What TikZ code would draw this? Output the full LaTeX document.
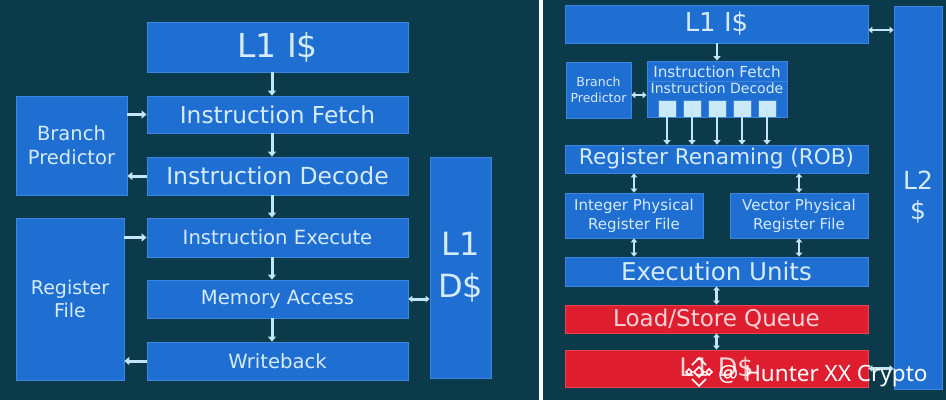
\documentclass[tikz,border=0pt]{standalone}
\usepackage{fontspec}
\setmainfont{DejaVu Sans}
\newfontfamily\wmfont{Noto Sans}
\usetikzlibrary{arrows.meta}
\definecolor{bg}{HTML}{0B3A4B}
\definecolor{boxblue}{HTML}{1F6ED2}
\definecolor{boxedge}{HTML}{3C86DF}
\definecolor{boxtext}{HTML}{D6EBF8}
\definecolor{arrowc}{HTML}{C2E6F5}
\definecolor{boxred}{HTML}{DE1E2E}
\definecolor{rededge}{HTML}{EE4252}
\definecolor{redtext}{HTML}{F6D3D7}
\definecolor{sqfill}{HTML}{C9EAF6}
\begin{document}
\begin{tikzpicture}[x=1pt,y=-1pt,
  bbox/.style={fill=boxblue, draw=boxedge, line width=0.8pt, text=boxtext, inner sep=0pt, align=center},
  rbox/.style={bbox, fill=boxred, draw=rededge, text=redtext},
  lbl/.style={text=boxtext, inner sep=0pt},
  sqbox/.style={fill=sqfill, draw=boxedge, line width=0.6pt, minimum width=18pt, minimum height=17pt, inner sep=0pt},
  arr/.style={draw=arrowc, line width=3pt, -{Triangle[length=5pt,width=8pt]}},
  sarr/.style={draw=arrowc, line width=2.4pt, -{Triangle[length=4.5pt,width=7pt]}},
  darr/.style={draw=arrowc, line width=2.4pt, {Triangle[length=4pt,width=6.5pt]}-{Triangle[length=4pt,width=6.5pt]}},
  logo/.style={draw=white, line width=1.6pt, line join=miter},
  wm/.style={text=white, inner sep=0pt, font=\wmfont\fontsize{22.5}{26}\selectfont}
]
\useasboundingbox (0,0) rectangle (946,400);
\fill[bg] (0,0) rectangle (946,400);
\fill[white] (539,0) rectangle (543,400);

% ---------- left panel ----------
\node[bbox, minimum width=261pt, minimum height=50pt, font=\fontsize{33}{36}\selectfont] (l1i) at (277.5,47) {L1 I\$};
\node[bbox, minimum width=111pt, minimum height=99pt, font=\fontsize{19.5}{24}\selectfont] (bp) at (71.5,145.5) {Branch\\Predictor};
\node[bbox, minimum width=261pt, minimum height=37pt, font=\fontsize{23.3}{26}\selectfont] (if) at (277.5,114.5) {Instruction Fetch};
\node[bbox, minimum width=261pt, minimum height=38pt, font=\fontsize{23.5}{26}\selectfont] (id) at (277.5,176) {Instruction Decode};
\node[bbox, minimum width=108pt, minimum height=162pt, font=\fontsize{19}{22.5}\selectfont] (rf) at (70,299) {Register\\File};
\node[bbox, minimum width=261pt, minimum height=39pt, font=\fontsize{19.6}{22}\selectfont] (ie) at (277.5,237.5) {Instruction Execute};
\node[bbox, minimum width=261pt, minimum height=38pt, font=\fontsize{19.6}{22}\selectfont] (ma) at (277.5,299) {Memory Access};
\node[bbox, minimum width=261pt, minimum height=38pt, font=\fontsize{19.6}{22}\selectfont] (wb) at (277.5,361) {Writeback};
\node[bbox, minimum width=61pt, minimum height=221pt, font=\fontsize{32}{42}\selectfont] (l1d) at (460.5,267.5) {L1\\D\$};

\coordinate (lax) at (272,0);
\draw[arr] (l1i.south -| lax) -- (if.north -| lax);
\draw[arr] (if.south -| lax) -- (id.north -| lax);
\draw[arr] (id.south -| lax) -- (ie.north -| lax);
\draw[arr] (ie.south -| lax) -- (ma.north -| lax);
\draw[arr] (ma.south -| lax) -- (wb.north -| lax);
\draw[arr] (bp.east |- if.west) -- (if.west);
\draw[arr] (id.west) -- (bp.east |- id.west);
\draw[arr] (rf.east |- ie.west) -- (ie.west);
\draw[arr] (wb.west) -- (rf.east |- wb.west);
\draw[darr, line width=3pt] (ma.east) -- (l1d.west |- ma.east);

% ---------- right panel ----------
\node[bbox, minimum width=303pt, minimum height=38pt, font=\fontsize{26}{30}\selectfont] (rl1i) at (716.5,24) {L1 I\$};
\node[bbox, minimum width=65pt, minimum height=56pt, font=\fontsize{12.5}{16}\selectfont] (rbp) at (598.5,90) {Branch\\Predictor};
\node[bbox, minimum width=140pt, minimum height=56pt] (rfd) at (717,89) {};
\draw[boxedge, line width=0.8pt] (rfd.west |- 0,81) -- (rfd.east |- 0,81);
\node[lbl, font=\fontsize{15.2}{18}\selectfont] (fdt1) at (717,72) {Instruction Fetch};
\node[lbl, font=\fontsize{14}{17}\selectfont] (fdt2) at (717,88.5) {Instruction Decode};
\node[sqbox] (s1) at (667,108.5) {};
\node[sqbox] (s2) at (692,108.5) {};
\node[sqbox] (s3) at (717,108.5) {};
\node[sqbox] (s4) at (742,108.5) {};
\node[sqbox] (s5) at (767,108.5) {};
\node[bbox, minimum width=303pt, minimum height=28pt, font=\fontsize{21.6}{25}\selectfont] (rrn) at (716.5,159) {Register Renaming (ROB)};
\node[bbox, minimum width=138pt, minimum height=45pt, font=\fontsize{15}{19}\selectfont] (ipr) at (634,215.5) {Integer Physical\\Register File};
\node[bbox, minimum width=138pt, minimum height=45pt, font=\fontsize{15}{19}\selectfont] (vpr) at (799,215.5) {Vector Physical\\Register File};
\node[bbox, minimum width=303pt, minimum height=29pt, font=\fontsize{24.5}{28}\selectfont] (eu) at (716.5,271.5) {Execution Units};
\node[rbox, minimum width=303pt, minimum height=28pt, font=\fontsize{23}{26}\selectfont] (lsq) at (716.5,319) {Load/Store Queue};
\node[rbox, minimum width=303pt, minimum height=37pt, font=\fontsize{25.5}{28}\selectfont] (rl1d) at (716.5,368.5) {L1 D\$};
\node[bbox, minimum width=48pt, minimum height=383pt, font=\fontsize{25}{30}\selectfont] (l2) at (918,197.5) {L2\\\$};

\coordinate (ry1) at (0,30);
\coordinate (ry2) at (0,95);
\draw[darr] (rl1i.east |- ry1) -- (l2.west |- ry1);
\draw[sarr] (rl1i.south -| rfd.north) -- (rfd.north);
\draw[darr] (rbp.east |- ry2) -- (rfd.west |- ry2);
\foreach \s in {s1,s2,s3,s4,s5}{
  \draw[sarr] (\s.center) -- (\s.center |- rrn.north);
}
\draw[darr] (rrn.south -| ipr.north) -- (ipr.north);
\draw[darr] (rrn.south -| vpr.north) -- (vpr.north);
\draw[darr] (ipr.south) -- (eu.north -| ipr.south);
\draw[darr] (vpr.south) -- (eu.north -| vpr.south);
\draw[darr] (eu.south) -- (lsq.north);
\draw[darr] (lsq.south) -- (rl1d.north);
\draw[darr] (rl1d.east) -- (l2.west |- rl1d.east);

% ---------- watermark ----------
\draw[logo] (699,367) -- (704,372) -- (699,377) -- (694,372) -- cycle;
\draw[logo] (689,369) -- (692,372) -- (689,375) -- (686,372) -- cycle;
\draw[logo] (709,369) -- (712,372) -- (709,375) -- (706,372) -- cycle;
\draw[logo] (692,365) -- (699,358) -- (706,365);
\draw[logo] (692,379) -- (699,386) -- (706,379);
\node[wm, anchor=base west] (wmtext) at (718,381) {@ Hunter XX Crypto};
\end{tikzpicture}
\end{document}
